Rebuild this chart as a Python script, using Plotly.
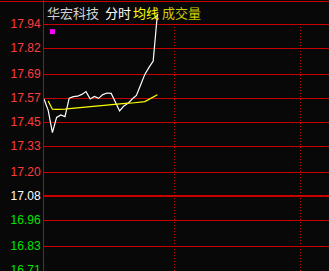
import plotly.graph_objects as go

# ---- data ----
minutes = list(range(28))
price = [17.565, 17.508, 17.397, 17.473, 17.485, 17.477, 17.569, 17.577, 17.579, 17.588,
         17.602, 17.565, 17.578, 17.568, 17.587, 17.595, 17.593, 17.550, 17.505, 17.530,
         17.543, 17.565, 17.583, 17.635, 17.688, 17.723, 17.755, 17.990]
avg_price = [None, 17.555, 17.514, 17.513, 17.513, 17.514, 17.517, 17.519, 17.521, 17.523,
             17.525, 17.527, 17.529, 17.531, 17.534, 17.536, 17.539, 17.540, 17.541, 17.542,
             17.544, 17.545, 17.547, 17.550, 17.552, 17.563, 17.574, 17.586]
marker_x = [2]
marker_y = [17.902]
tick_labels = ["17.94", "17.82", "17.69", "17.57", "17.45", "17.33",
               "17.20", "17.08", "16.96", "16.83", "16.71"]
tick_colors = ["#ff3c3c"] * 7 + ["#ffffff"] + ["#00e600"] * 3
pre_close = 17.08
session_lines = [31.07, 61.07]

W, H = 329, 271
L = 44
px_per_min = 4.2
px_per_unit = 200.0
top_price = 17.94 + 24 / px_per_unit
bot_price = top_price - H / px_per_unit

RED = "#c80000"
BG = "#080808"

fig = go.Figure()
fig.add_trace(go.Scatter(x=minutes, y=price, mode="lines",
                         line=dict(color="#ffffff", width=1.2), hoverinfo="skip"))
fig.add_trace(go.Scatter(x=minutes, y=avg_price, mode="lines",
                         line=dict(color="#ffff00", width=1.2), hoverinfo="skip"))
fig.add_trace(go.Scatter(x=marker_x, y=marker_y, mode="markers",
                         marker=dict(color="#ff00ff", size=5, symbol="square",
                                     line=dict(width=0)), hoverinfo="skip"))

ticktext = [f'<span style="color:{c}">{t}</span>' for t, c in zip(tick_labels, tick_colors)]
tickvals = [float(t) for t in tick_labels]

shapes = []
# top border across full width
shapes.append(dict(type="line", xref="paper", yref="paper",
                   x0=-L / (W - L), x1=1, y0=1 - 1.5 / H, y1=1 - 1.5 / H,
                   line=dict(color=RED, width=1)))
# thick pre-close line
shapes.append(dict(type="line", xref="paper", yref="y", x0=0, x1=1,
                   y0=pre_close, y1=pre_close, line=dict(color=RED, width=2)))
for sx in session_lines:
    shapes.append(dict(type="line", xref="x", yref="y", x0=sx, x1=sx,
                       y0=bot_price, y1=float(tick_labels[0]),
                       line=dict(color=RED, width=1, dash="1px,2px")))

annotations = []
title_parts = [("华宏科技", "#d2d2d2", 45), ("分时", "#ffffff", 103),
               ("均线", "#ffff00", 131), ("成交量", "#cccc00", 160)]
for txt, col, xp in title_parts:
    annotations.append(dict(text=txt, xref="paper", yref="paper",
                            x=(xp - L) / (W - L), y=1 - 12.5 / H,
                            xanchor="left", yanchor="middle", showarrow=False,
                            font=dict(family="Noto Sans CJK SC", size=13, color=col)))

fig.update_layout(
    width=W, height=H,
    margin=dict(l=L, r=0, t=0, b=0, autoexpand=False),
    paper_bgcolor=BG, plot_bgcolor=BG,
    showlegend=False,
    shapes=shapes, annotations=annotations,
    xaxis=dict(range=[0, (W - L) / px_per_min], showgrid=False, zeroline=False,
               showticklabels=False, showline=False, fixedrange=True,
               automargin=False),
    yaxis=dict(range=[bot_price, top_price], tickvals=tickvals, ticktext=ticktext,
               showgrid=True, gridcolor=RED, gridwidth=1, zeroline=False,
               showline=True, linecolor=RED, linewidth=1, ticks="",
               ticklabeloverflow="allow", automargin=False,
               tickfont=dict(family="Liberation Sans", size=12, color="#ff3c3c"),
               fixedrange=True),
)

fig.write_html("out.html")
